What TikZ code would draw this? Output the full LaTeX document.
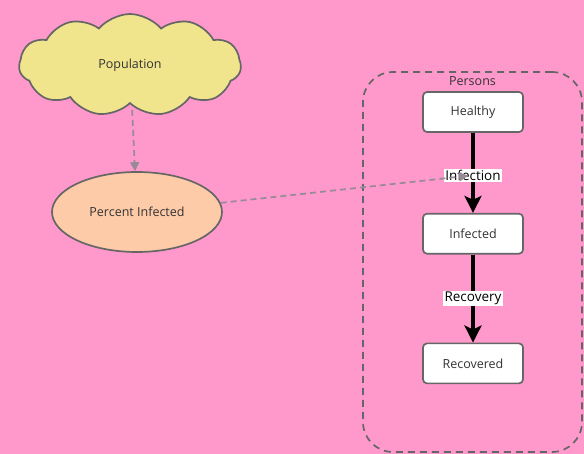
\documentclass[tikz,border=0pt]{standalone}
\usepackage{fontspec}
\setmainfont{Open Sans}
\usetikzlibrary{positioning,shapes.geometric,shapes.symbols,arrows.meta}
\definecolor{bgpink}{RGB}{255,153,204}
\definecolor{khaki}{RGB}{240,228,140}
\definecolor{peach}{RGB}{253,203,168}
\definecolor{edgegray}{RGB}{102,102,102}
\definecolor{linkgray}{RGB}{150,138,150}
\definecolor{textgray}{RGB}{51,51,51}
\begin{document}
\begin{tikzpicture}[x=1pt,y=1pt,node distance=80pt,font=\fontsize{12.5}{14}\selectfont,text=textgray]
    \tikzstyle{stock} = [rectangle,rounded corners=4pt,minimum width=100pt,minimum height=40pt,text centered,draw=edgegray,line width=1.7pt,fill=white]
    \tikzstyle{flow} = [-{Stealth[length=17pt,width=17pt,inset=4pt]},line width=3.5pt,draw=black]
    \tikzstyle{flowlabel} = [fill=white,inner sep=1.5pt,text=black,font=\fontsize{13.5}{15}\selectfont]
    \tikzstyle{link} = [dash pattern=on 6pt off 4pt,draw=linkgray,line width=1.7pt,-{Triangle[length=9pt,width=9pt]}]
    \fill[bgpink] (0,0) rectangle (584,-454);
    \useasboundingbox (0,0) rectangle (584,-454);
    % left side
    \node (population)[cloud,cloud puffs=11,cloud puff arc=100,aspect=2.2,minimum width=222pt,minimum height=102pt,draw=edgegray,fill=khaki,line width=1.7pt] at (130,-65) {Population};
    \node (percent)[ellipse,minimum width=170pt,minimum height=80pt,draw=edgegray,fill=peach,line width=1.7pt] at (137,-212) {Percent Infected};
    % persons container
    \node (personsbox)[rectangle,rounded corners=30pt,dash pattern=on 7pt off 5pt,draw=edgegray,line width=1.7pt,minimum width=219pt,minimum height=380pt] at (472.5,-262) {};
    \node (persons)[below,inner sep=2pt,yshift=-3pt] at (personsbox.north) {Persons};
    \node (healthy)[stock] at (473,-112) {Healthy};
    \node (infected)[stock,below=80pt of healthy] {Infected};
    \node (recovered)[stock,below=88pt of infected] {Recovered};
    \draw [flow] (healthy.south) -- coordinate[pos=0.53] (infmid) node [flowlabel,pos=0.53]{Infection} (infected.north);
    \draw [flow] (infected.south) -- node [flowlabel,pos=0.5]{Recovery} (recovered.north);
    % links
    \draw [link,shorten <=4pt] (population) -- (percent);
    \draw [link,shorten >=5pt] (percent) -- (infmid);
\end{tikzpicture}
\end{document}
